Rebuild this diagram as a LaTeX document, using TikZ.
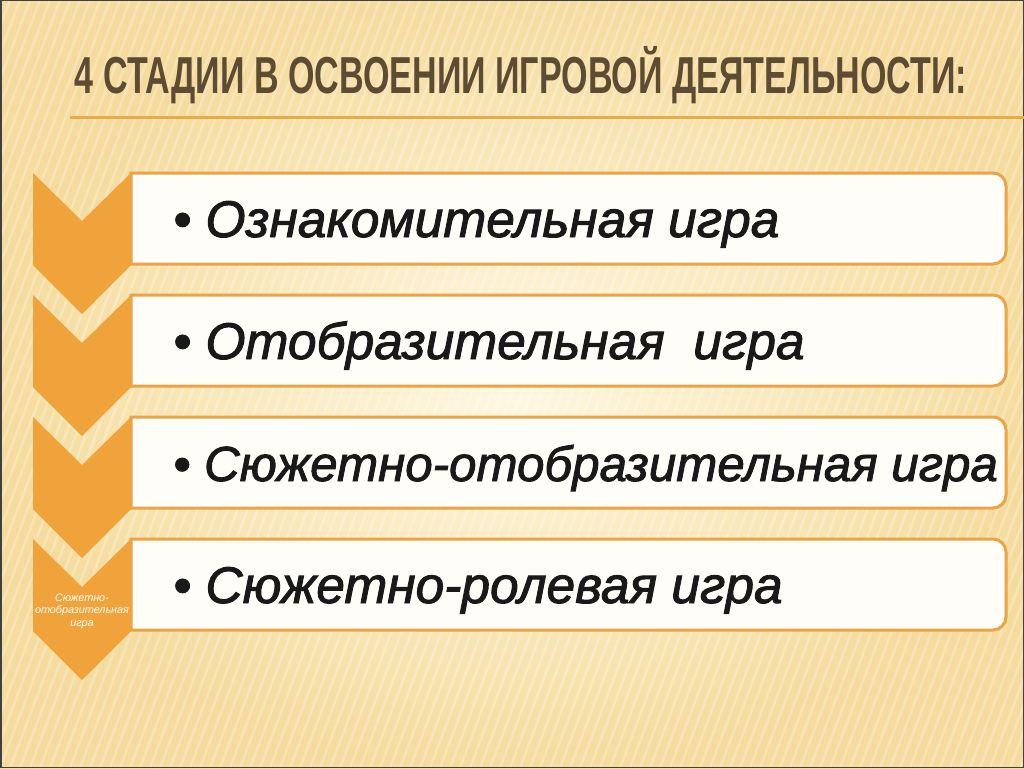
\documentclass[tikz,border=0pt]{standalone}
\usepackage{fontspec}
\usepackage{xcolor}
\usepackage{tikz}
\setmainfont{Liberation Sans}
\newfontfamily\titlefont[FakeStretch=0.655]{Liberation Sans}
\newfontfamily\itemfont[FakeBold=1.8]{Liberation Sans}

\definecolor{bgcenter}{HTML}{FFF8E2}
\definecolor{bgedge}{HTML}{F5DC9E}
\definecolor{stageorange}{HTML}{EFA33A}
\definecolor{boxline}{HTML}{EBA445}
\definecolor{boxfill}{HTML}{FFFDF8}
\definecolor{titlebrown}{HTML}{5E4B33}
\definecolor{titleline}{HTML}{E9AA48}

\begin{document}
\begin{tikzpicture}[x=1pt,y=-1pt,
    stage/.style={fill=stageorange},
    stagebox/.style={draw=boxline,line width=3pt,fill=boxfill},
    item/.style={anchor=base west,inner sep=0pt,text=black!90,font=\itemfont\itshape\fontsize{51.5}{56}\selectfont},
    long item/.style={item,font=\itemfont\itshape\fontsize{49.3}{56}\selectfont},
    title/.style={anchor=base,inner sep=0pt,text=titlebrown,font=\titlefont\bfseries\fontsize{52}{56}\selectfont},
    note/.style={align=center,text=white,inner sep=0pt,font=\itshape\fontsize{10.8}{12.5}\selectfont}]
        \useasboundingbox (0,0) rectangle (1024,768);
        % background
        \shade[inner color=bgcenter,outer color=bgedge] (0,0) rectangle (1024,768);
        \begin{scope}
            \clip (0,0) rectangle (1024,768);
            \foreach \s in {-320,-310,...,1024}
                \draw[white,opacity=0.25,line width=2.5pt] (\s,768) -- ++(290,-768);
        \end{scope}
        \draw[black!75,line width=1.5pt] (0.75,0.75) rectangle (1023.25,767.25);

        % title
        \node[title] (title) at (521,93) {4 СТАДИИ В ОСВОЕНИИ ИГРОВОЙ ДЕЯТЕЛЬНОСТИ:};
        \coordinate (rule west) at (70,117);
        \coordinate (rule east) at (1024,117);
        \draw[titleline,line width=3pt] (rule west) -- (rule east);

        % stages
        \foreach \y in {173,295,417,539} {
            \draw[stagebox] (131,\y) -- (993,\y) arc[start angle=-90,end angle=0,radius=13]
                -- (1006,\y+78) arc[start angle=0,end angle=90,radius=13] -- (131,\y+91) -- cycle;
            \fill[stage] (33,\y) -- (82,\y+48) -- (131,\y) -- (131,\y+92) -- (82,\y+141) -- (33,\y+92) -- cycle;
        }

        \node[item] (stage1) at (173,237) {\textbullet\ Ознакомительная игра};
        \node[item] (stage2) at (173,359) {\textbullet\ Отобразительная\ \ игра};
        \node[long item] (stage3) at (173,481) {\textbullet\ Сюжетно-отобразительная игра};
        \node[item] (stage4) at (173,603) {\textbullet\ Сюжетно-ролевая игра};
        \node[note] (stage4note) at (82,611) {Сюжетно-\\отобразительная\\игра};
\end{tikzpicture}
\end{document}
